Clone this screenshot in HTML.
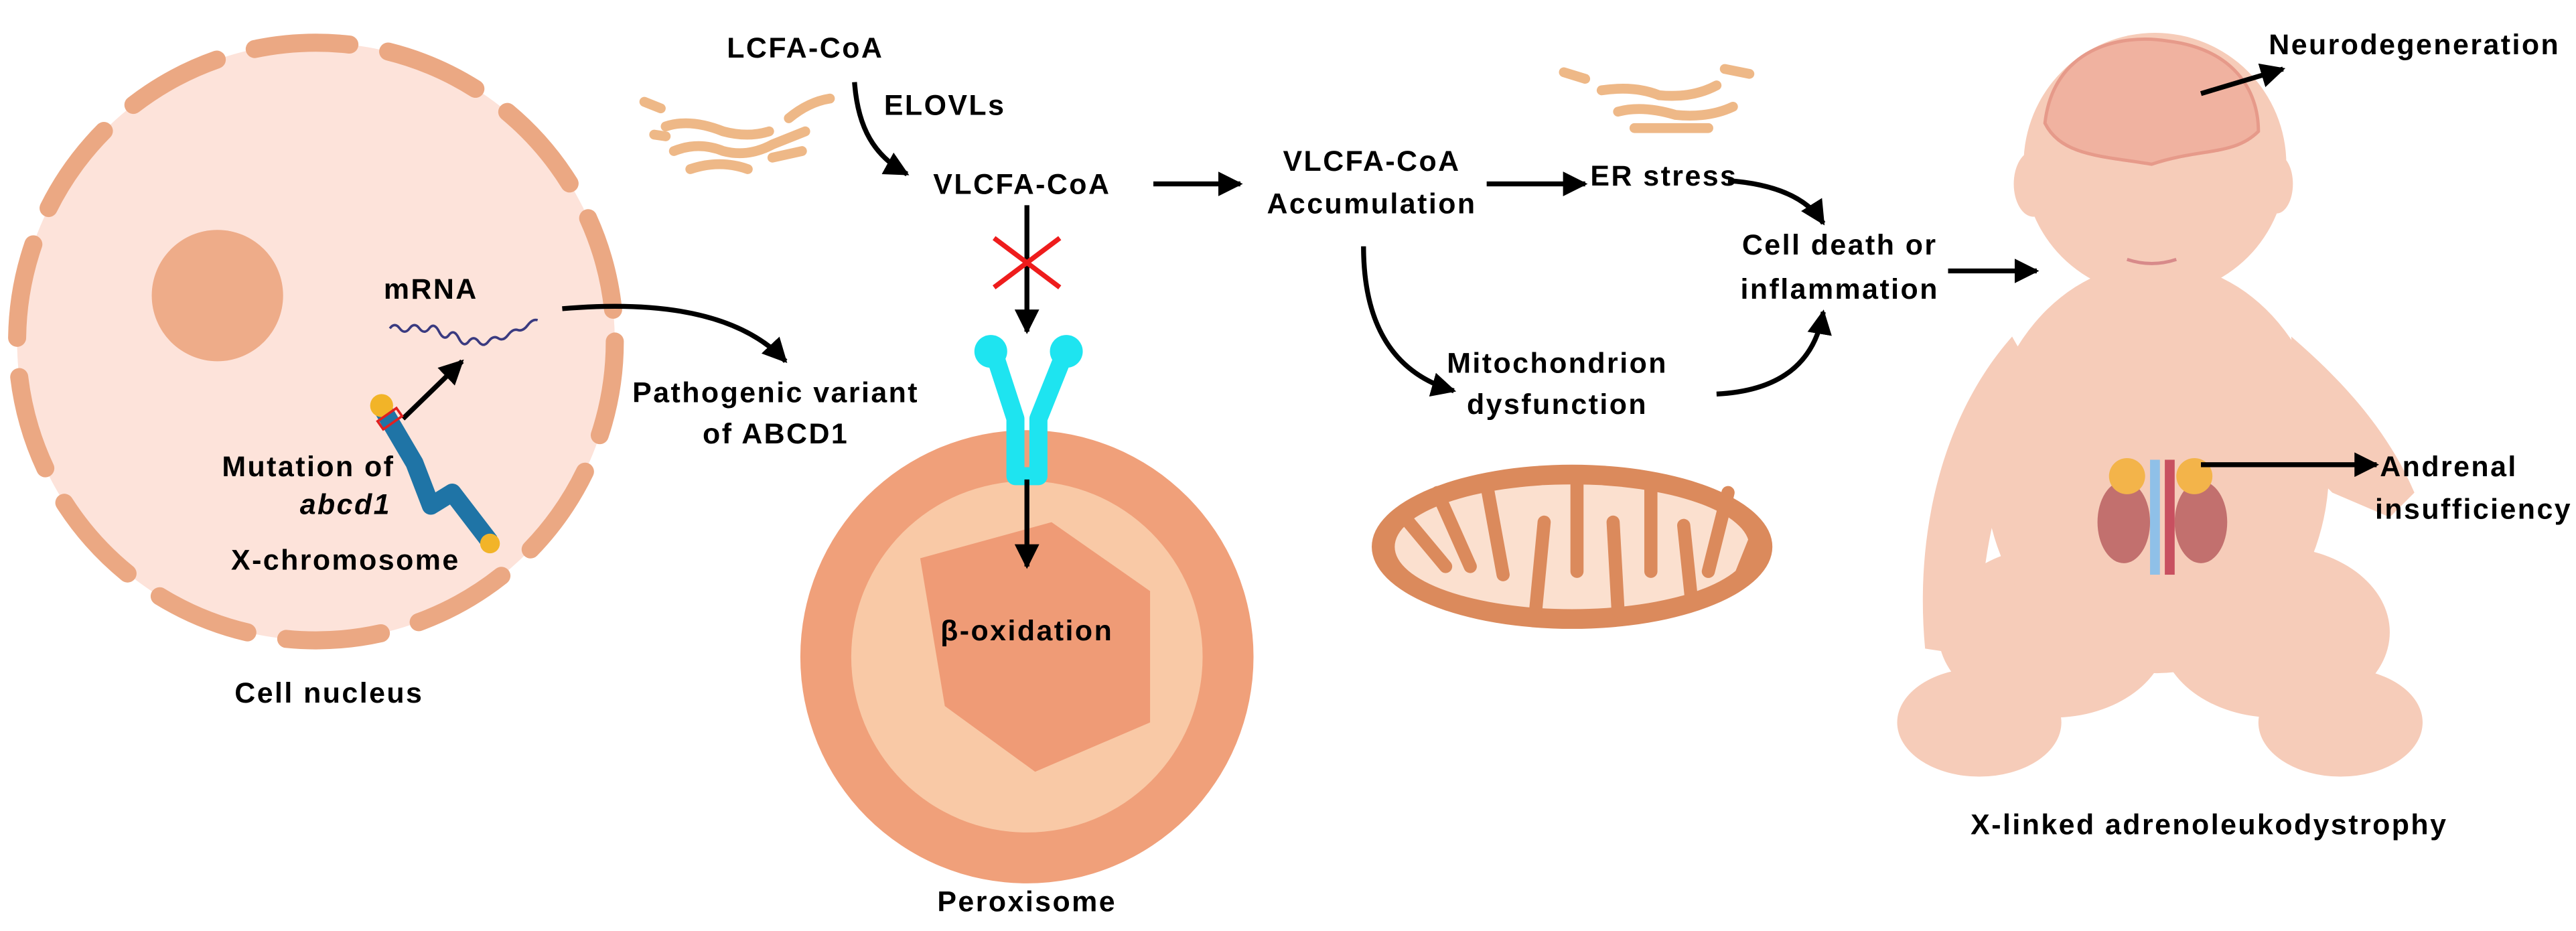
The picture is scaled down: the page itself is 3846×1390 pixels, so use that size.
<!DOCTYPE html>
<html><head><meta charset="utf-8"><style>
html,body{margin:0;padding:0;background:#fff;}
svg{display:block;}
text{font-family:"Liberation Sans",Arial,sans-serif;font-weight:bold;font-size:17.5px;fill:#000;letter-spacing:1px;}
</style></head><body>
<svg width="3846" height="1390" viewBox="0 0 1568 567" xmlns="http://www.w3.org/2000/svg">
<defs>
<marker id="ah" viewBox="0 0 10 10" refX="9" refY="5" markerWidth="5" markerHeight="5" orient="auto-start-reverse"><path d="M0,0 L10,5 L0,10 z" fill="#000"/></marker>
</defs>
<rect width="1568" height="567" fill="#fff"/>

<!-- Cell -->
<circle cx="192" cy="208" r="182" fill="#fde3da"/>
<circle cx="192" cy="208" r="182" fill="none" stroke="#eba883" stroke-width="11" stroke-linecap="round" stroke-dasharray="58 24"/>
<circle cx="132" cy="180" r="40" fill="#eeac89"/>
<text x="262" y="182" text-anchor="middle">mRNA</text>
<path d="M237,200 q3,-4 6,0 t6,0 t6,0 t6,0 t6,2 t6,2 t6,2 t6,2 t6,0 t6,0 t6,-2 t6,-2 t6,-3 t6,-3 t6,-3" fill="none" stroke="#3a3a80" stroke-width="1.5"/>
<line x1="245" y1="255" x2="281" y2="220" stroke="#000" stroke-width="3" marker-end="url(#ah)"/>
<path d="M232,248 L252,282 L262,308 L275,300 L298,330" fill="none" stroke="#1f74a6" stroke-width="11" stroke-linejoin="round"/>
<circle cx="232" cy="247" r="7" fill="#f2b428"/>
<circle cx="298" cy="331" r="6" fill="#f2b428"/>
<rect x="230" y="252" width="14" height="6" fill="none" stroke="#e02020" stroke-width="1.5" transform="rotate(-35 237 255)"/>
<text x="240" y="290" text-anchor="end">Mutation of</text>
<text x="210" y="313" text-anchor="middle" font-style="italic">abcd1</text>
<text x="210" y="347" text-anchor="middle">X-chromosome</text>
<text x="200" y="428" text-anchor="middle">Cell nucleus</text>
<path d="M342,188 C400,183 450,190 478,220" fill="none" stroke="#000" stroke-width="3" marker-end="url(#ah)"/>
<text x="472" y="245" text-anchor="middle">Pathogenic variant</text>
<text x="472" y="270" text-anchor="middle">of ABCD1</text>

<!-- ER left -->
<g fill="none" stroke="#eeb887" stroke-width="6" stroke-linecap="round">
<path d="M392,62 L402,66"/><path d="M405,77 Q420,72 440,80 Q455,84 468,80"/><path d="M410,92 Q425,86 440,92 Q455,96 470,88 Q480,84 490,80"/><path d="M420,103 Q438,97 455,103"/><path d="M470,96 L488,92"/><path d="M480,72 Q492,62 505,60"/><path d="M398,82 L405,83"/>
</g>

<!-- pathway top -->
<text x="490" y="35" text-anchor="middle">LCFA-CoA</text>
<path d="M520,50 C522,78 532,95 552,106" fill="none" stroke="#000" stroke-width="3" marker-end="url(#ah)"/>
<text x="575" y="70" text-anchor="middle">ELOVLs</text>
<text x="622" y="118" text-anchor="middle">VLCFA-CoA</text>
<line x1="625" y1="125" x2="625" y2="202" stroke="#000" stroke-width="3" marker-end="url(#ah)"/>
<line x1="605" y1="145" x2="645" y2="175" stroke="#ee1c1c" stroke-width="3"/>
<line x1="645" y1="145" x2="605" y2="175" stroke="#ee1c1c" stroke-width="3"/>

<!-- Peroxisome -->
<circle cx="625" cy="400" r="138" fill="#f0a07a"/>
<circle cx="625" cy="400" r="107" fill="#f9c9a6"/>
<path d="M560,340 L640,318 L700,360 L700,440 L630,470 L575,430 Z" fill="#ef9b76" stroke-linejoin="round"/>
<path d="M605,215 L618,255 L618,290 L632,290 L632,255 L648,215" fill="none" stroke="#1ee4f0" stroke-width="11" stroke-linejoin="round"/>
<circle cx="603" cy="214" r="10" fill="#1ee4f0"/>
<circle cx="649" cy="214" r="10" fill="#1ee4f0"/>
<line x1="625" y1="292" x2="625" y2="345" stroke="#000" stroke-width="3" marker-end="url(#ah)"/>
<text x="625" y="390" text-anchor="middle">β-oxidation</text>
<text x="625" y="555" text-anchor="middle">Peroxisome</text>

<!-- middle -->
<line x1="702" y1="112" x2="755" y2="112" stroke="#000" stroke-width="3" marker-end="url(#ah)"/>
<text x="835" y="104" text-anchor="middle">VLCFA-CoA</text>
<text x="835" y="130" text-anchor="middle">Accumulation</text>
<line x1="905" y1="112" x2="965" y2="112" stroke="#000" stroke-width="3" marker-end="url(#ah)"/>
<text x="1013" y="113" text-anchor="middle">ER stress</text>
<path d="M1052,110 C1080,112 1100,120 1110,136" fill="none" stroke="#000" stroke-width="3" marker-end="url(#ah)"/>
<text x="1120" y="155" text-anchor="middle">Cell death or</text>
<text x="1120" y="182" text-anchor="middle">inflammation</text>
<line x1="1186" y1="165" x2="1240" y2="165" stroke="#000" stroke-width="3" marker-end="url(#ah)"/>
<path d="M830,150 C830,200 850,228 885,238" fill="none" stroke="#000" stroke-width="3" marker-end="url(#ah)"/>
<text x="948" y="227" text-anchor="middle">Mitochondrion</text>
<text x="948" y="252" text-anchor="middle">dysfunction</text>
<path d="M1045,240 C1085,238 1105,220 1110,190" fill="none" stroke="#000" stroke-width="3" marker-end="url(#ah)"/>

<!-- Mitochondrion -->
<ellipse cx="957" cy="333" rx="122" ry="50" fill="#db8a5c"/>
<ellipse cx="957" cy="333" rx="108" ry="38" fill="#fbe0cf"/>
<g stroke="#db8a5c" stroke-width="8" stroke-linecap="round">
<line x1="855" y1="315" x2="880" y2="345"/><line x1="875" y1="300" x2="895" y2="345"/><line x1="905" y1="295" x2="915" y2="350"/><line x1="935" y1="370" x2="940" y2="318"/><line x1="960" y1="295" x2="960" y2="348"/><line x1="985" y1="372" x2="982" y2="318"/><line x1="1005" y1="296" x2="1005" y2="348"/><line x1="1030" y1="368" x2="1025" y2="320"/><line x1="1052" y1="300" x2="1040" y2="348"/><line x1="1060" y1="350" x2="1070" y2="325"/>
</g>

<!-- ER right -->
<g fill="none" stroke="#eeb887" stroke-width="6" stroke-linecap="round">
<path d="M952,44 L965,48"/><path d="M975,55 Q995,52 1010,58 Q1030,60 1045,52"/><path d="M985,68 Q1000,64 1020,70 Q1040,72 1055,65"/><path d="M995,78 L1040,78"/><path d="M1050,42 L1065,45"/>
</g>

<!-- Baby -->
<g fill="#f6ccb9">
<ellipse cx="1205" cy="440" rx="50" ry="33"/>
<ellipse cx="1425" cy="440" rx="50" ry="33"/>
<ellipse cx="1250" cy="385" rx="70" ry="52"/>
<ellipse cx="1385" cy="385" rx="70" ry="52"/>
<ellipse cx="1313" cy="285" rx="105" ry="125"/>
<path d="M1225,205 C1185,250 1165,320 1172,395 L1205,400 C1205,330 1220,280 1245,240 Z"/>
<path d="M1395,205 C1430,235 1455,265 1470,300 L1455,315 L1420,300 L1400,280 Z"/>
<circle cx="1312" cy="100" r="80"/>
<ellipse cx="1238" cy="112" rx="12" ry="20"/>
<ellipse cx="1386" cy="112" rx="10" ry="18"/>
</g>
<path d="M1245,75 C1250,30 1290,20 1320,25 C1360,30 1375,55 1375,80 C1360,95 1340,90 1310,100 C1280,95 1255,95 1245,75 Z" fill="#f0b2a0" stroke="#e69a8a" stroke-width="2"/>
<path d="M1295,158 q15,5 30,0" fill="none" stroke="#d88a8a" stroke-width="2"/>
<!-- kidneys -->
<ellipse cx="1293" cy="318" rx="16" ry="25" fill="#c2706e"/>
<ellipse cx="1340" cy="318" rx="16" ry="25" fill="#c2706e"/>
<circle cx="1295" cy="290" r="11" fill="#f3b44a"/>
<circle cx="1336" cy="290" r="11" fill="#f3b44a"/>
<rect x="1309" y="280" width="6" height="70" fill="#8fc0e8"/>
<rect x="1318" y="280" width="6" height="70" fill="#c85060"/>
<text x="1470" y="33" text-anchor="middle">Neurodegeneration</text>
<line x1="1340" y1="57" x2="1390" y2="42" stroke="#000" stroke-width="3" marker-end="url(#ah)"/>
<line x1="1340" y1="283" x2="1447" y2="283" stroke="#000" stroke-width="3" marker-end="url(#ah)"/>
<text x="1449" y="290" text-anchor="start">Andrenal</text>
<text x="1566" y="316" text-anchor="end">insufficiency</text>
<text x="1345" y="508" text-anchor="middle">X-linked adrenoleukodystrophy</text>
</svg>
</body></html>
